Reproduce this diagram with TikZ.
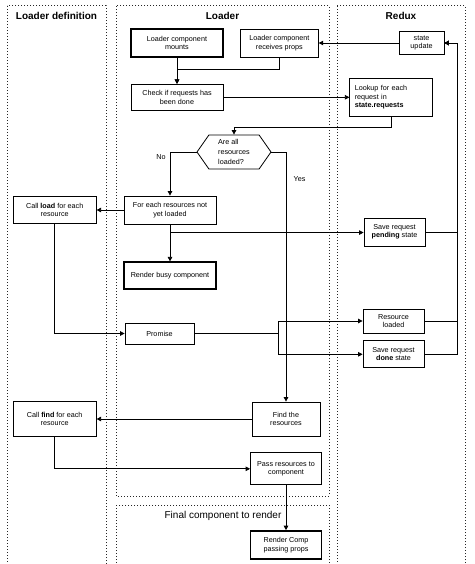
\documentclass[tikz,border=0pt]{standalone}
\usepackage{fontspec}
\setmainfont{Liberation Sans}
\usetikzlibrary{arrows.meta, positioning, calc, shapes.symbols}

\begin{document}
\begin{tikzpicture}[
    x=1pt, y=-1pt,
    >={Triangle[length=4.5pt, width=4.5pt]},
    every node/.style={font=\fontsize{7.2}{8.3}\selectfont},
    box/.style={draw, line width=0.8pt, align=center, inner sep=2pt},
    mainbox/.style={box, line width=1.8pt},
    decision/.style={draw, line width=0.8pt, signal, signal to=east and west, signal pointer angle=110, minimum width=74pt, minimum height=34pt, align=left, inner sep=1pt, font=\fontsize{7.2}{9.6}\selectfont},
    lane/.style={draw=black!85, line width=1pt, dash pattern=on 1pt off 2pt},
    lanetitle/.style={font=\bfseries\fontsize{10}{12}\selectfont},
    flow/.style={->, line width=0.8pt},
]
    \useasboundingbox (0,0) rectangle (474,564);
    \clip (0,0) rectangle (474,564);

    % Lanes
    \draw[lane] (7,6) rectangle (106,570);
    \draw[lane] (116,6) rectangle (329,496);
    \draw[lane] (116,505) rectangle (329,570);
    \draw[lane] (337,6) rectangle (465,570);
    \node[lanetitle] (deftitle) at (56.5,16) {Loader definition};
    \node[lanetitle] (loadertitle) at (222.5,16) {Loader};
    \node[lanetitle] (reduxtitle) at (401,16) {Redux};
    \node[font=\fontsize{10}{12}\selectfont] (finaltitle) at (223,516) {Final component to render};

    % Loader
    \node[mainbox, minimum width=92pt, minimum height=28pt] (mount) at (177,43) {Loader component\\mounts};
    \node[box, minimum width=78pt, minimum height=28pt, right=16pt of mount] (props) {Loader component\\receives props};
    \node[box, minimum width=92pt, minimum height=26pt, below=26pt of mount] (check) {Check if requests has\\been done};
    \node[decision] (allloaded) at (234,152) {Are all\\resources\\loaded?};
    \node[box, minimum width=92pt, minimum height=28pt] (notloaded) at (170,210) {For each resources not\\yet loaded};
    \node[mainbox, minimum width=92pt, minimum height=27pt, below=37pt of notloaded] (busy) {Render busy component};
    \node[box, minimum width=69pt, minimum height=21pt] (promise) at (159.5,333.5) {Promise};
    \node[box, minimum width=68pt, minimum height=34pt] (findres) at (286,419) {Find the\\resources};
    \node[box, minimum width=71pt, minimum height=32pt, below=16pt of findres] (passres) {Pass resources to\\component};

    % Final component
    \node[mainbox, minimum width=71pt, minimum height=28pt, below=45pt of passres] (rendercomp) {Render Comp\\passing props};

    % Loader definition
    \node[box, minimum width=83pt, minimum height=27pt, left=27pt of notloaded] (callload) {Call \textbf{load} for each\\resource};
    \node[box, minimum width=83pt, minimum height=35pt, left=155pt of findres] (callfind) {Call \textbf{find} for each\\resource};

    % Redux
    \node[box, minimum width=45pt, minimum height=23pt] (update) at (421.5,43) {state\\update};
    \node[box, minimum width=83pt, minimum height=38pt, text width=73pt, align=left, right=126pt of check] (lookup) {Lookup for each\\request in\\\textbf{state.requests}};
    \node[box, minimum width=61pt, minimum height=28pt] (pending) at (394.5,232) {Save request\\\textbf{pending} state};
    \node[box, minimum width=61pt, minimum height=24pt] (resloaded) at (393.5,321) {Resource\\loaded};
    \node[box, minimum width=61pt, minimum height=27pt, below=7pt of resloaded] (reqdone) {Save request\\\textbf{done} state};
    \coordinate (rail) at (457,43);

    % Mount / props
    \draw[flow] (mount) -- (check);
    \draw[flow] (props.south) -- ++(0,12) -| (check.north);
    \draw[flow] (update) -- (props);
    \draw[flow] (check) -- (lookup);
    \draw[flow] (lookup.south) -- ++(0,11) -| (allloaded.north);

    % Decision
    \draw[flow] (allloaded.west) -| (notloaded.north) node[pos=0.5, anchor=north east, xshift=-3pt, yshift=-1pt, inner sep=1pt] {No};
    \draw[flow] (allloaded.east) -| (findres.north) node[pos=0.554, anchor=west, xshift=4pt] {Yes};

    % Not loaded branch
    \draw[flow] (notloaded) -- (callload);
    \draw[flow] (notloaded) -- (busy);
    \coordinate (busyfork) at ($(notloaded.south)!0.22!(busy.north)$);
    \draw[flow] (busyfork) -- (busyfork -| pending.west);
    \draw[flow] (callload.south) |- (promise.west);
    \draw[flow] (promise.east) -- ++(84,0) |- (resloaded.west);
    \draw[flow] (promise.east) -- ++(84,0) |- (reqdone.west);

    % Back to state update
    \draw[flow] (pending.east) -| (rail) -- (update.east);
    \draw[flow] (resloaded.east) -| (rail) -- (update.east);
    \draw[flow] (reqdone.east) -| (rail) -- (update.east);

    % Loaded branch
    \draw[flow] (findres) -- (callfind);
    \draw[flow] (callfind.south) |- (passres.west);
    \draw[flow] (passres) -- (rendercomp);
\end{tikzpicture}
\end{document}
